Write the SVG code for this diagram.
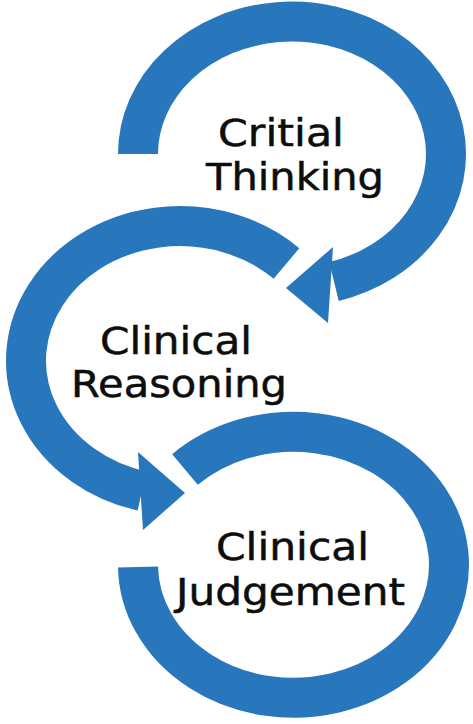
<svg xmlns="http://www.w3.org/2000/svg" width="473" height="724" viewBox="0 0 473 724">
  <style>
    .ring { fill: none; stroke: #2876bc; stroke-width: 40; stroke-linecap: butt; }
    .head { fill: #2876bc; stroke: none; }
    .label { font-family: "DejaVu Sans", "Noto Sans", sans-serif; font-size: 36.5px; fill: #0d0d0d; stroke: #0d0d0d; stroke-width: 0.5px; }
  </style>
  <rect x="0" y="0" width="473" height="724" fill="#ffffff"/>
  <g id="connectors">
    <g id="arrow-critical-thinking">
      <path class="ring" d="M 138 154 A 154 132.5 0 1 1 334 281.5"/>
      <polygon class="head" points="333,247 286,288 328,323"/>
    </g>
    <g id="arrow-clinical-reasoning">
      <path class="ring" d="M 286.5 263.5 A 154 134.5 0 1 0 142 491"/>
      <polygon class="head" points="138,452 185,493 143,530"/>
    </g>
    <g id="arrow-clinical-judgement">
      <path class="ring" d="M 185 469.5 A 155.5 133 0 1 1 138 567"/>
    </g>
  </g>
  <g id="node-critical-thinking">
    <text class="label"><tspan x="218" y="146" textLength="126" lengthAdjust="spacingAndGlyphs">Critial</tspan><tspan x="206" y="190" textLength="178" lengthAdjust="spacingAndGlyphs">Thinking</tspan></text>
  </g>
  <g id="node-clinical-reasoning">
    <text class="label"><tspan x="100" y="354" textLength="152" lengthAdjust="spacingAndGlyphs">Clinical</tspan><tspan x="71" y="397" textLength="216" lengthAdjust="spacingAndGlyphs">Reasoning</tspan></text>
  </g>
  <g id="node-clinical-judgement">
    <text class="label"><tspan x="216" y="560" textLength="153" lengthAdjust="spacingAndGlyphs">Clinical</tspan><tspan x="176" y="605" textLength="229" lengthAdjust="spacingAndGlyphs">Judgement</tspan></text>
  </g>
</svg>
